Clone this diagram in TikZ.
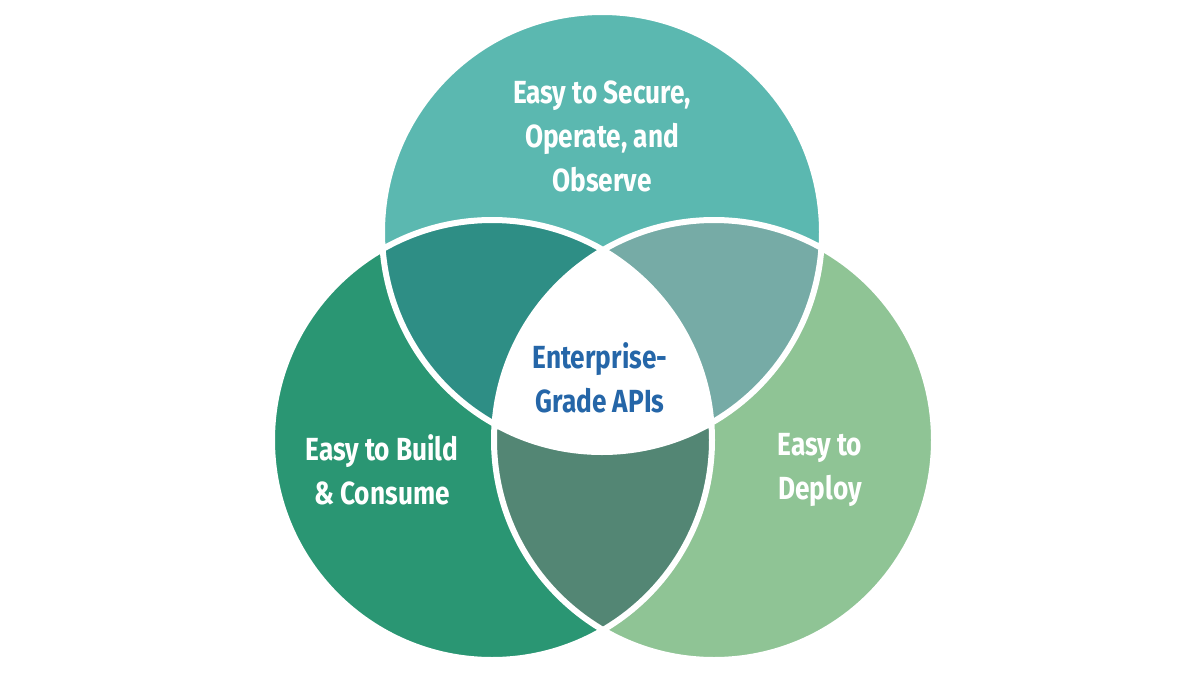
\documentclass[tikz,border=0pt]{standalone}
\usepackage{fontspec}
\setmainfont{Fira Sans}[FakeStretch=0.82]
\begin{document}
\begin{tikzpicture}[x=1pt,y=-1pt,
  lbl/.style={text=white,font=\bfseries\fontsize{32}{44}\selectfont,align=center},
  clbl/.style={text=ctext,font=\bfseries\fontsize{32}{44}\selectfont,align=center}]
\definecolor{ctop}{HTML}{5BB8B0}
\definecolor{cleft}{HTML}{2A9673}
\definecolor{cright}{HTML}{8FC495}
\definecolor{ctl}{HTML}{2E8E85}
\definecolor{ctr}{HTML}{76ABA6}
\definecolor{cbot}{HTML}{538674}
\definecolor{ctext}{HTML}{2566A8}
\useasboundingbox[fill=white] (0,0) rectangle (1200,675);
\def\T{(602,232) circle (220)}
\def\L{(492,440) circle (220)}
\def\R{(714,440) circle (220)}
\fill[ctop] \T; \fill[cleft] \L; \fill[cright] \R;
\begin{scope}\clip \T; \fill[ctl] \L; \end{scope}
\begin{scope}\clip \T; \fill[ctr] \R; \end{scope}
\begin{scope}\clip \L; \fill[cbot] \R; \end{scope}
\begin{scope}\clip \T; \clip \L; \fill[white] \R; \end{scope}
\draw[white,line width=6] \T \L \R;
\node[lbl] (top) at (602,136) {Easy to Secure,\\Operate, and\\Observe};
\node[lbl] (left) at (382,470) {Easy to Build\\\& Consume};
\node[lbl] (right) at (820,470) {Easy to\\Deploy};
\node[clbl] (center) at (600,378) {Enterprise-\\Grade APIs};
\end{tikzpicture}
\end{document}
